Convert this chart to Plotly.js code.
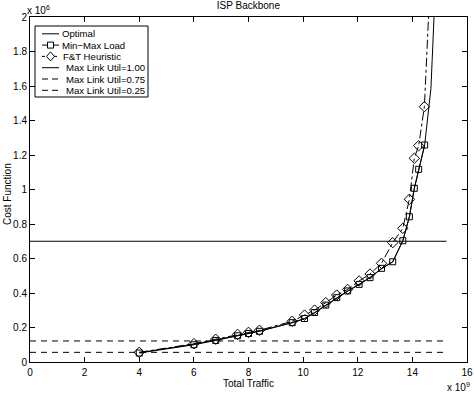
<!DOCTYPE html>
<html>
<head>
<meta charset="utf-8">
<script src="https://cdn.plot.ly/plotly-3.0.1.min.js"></script>
<style>html,body{margin:0;padding:0;background:#fff;}#chart{width:474px;height:393px;}</style>
</head>
<body>
<div id="chart"></div>
<script>
// Total traffic in units of 1e9, cost in units of 1e6
var optimalX = [4, 6, 6.8, 7.6, 8, 8.4, 9.6, 10.05, 10.42, 10.83, 11.23, 11.63, 12.05, 12.45, 12.87, 13.28, 13.65, 13.89, 14.07, 14.23, 14.45, 14.68, 14.82];
var optimalY = [0.054, 0.103, 0.128, 0.155, 0.168, 0.18, 0.228, 0.25, 0.285, 0.328, 0.37, 0.41, 0.45, 0.49, 0.54, 0.58, 0.703, 0.84, 1.005, 1.117, 1.258, 1.587, 2.1];

var minMaxX = [4, 6, 6.8, 7.6, 8, 8.4, 9.6, 10.05, 10.42, 10.83, 11.23, 11.63, 12.05, 12.45, 12.87, 13.28, 13.65, 13.89, 14.07, 14.23, 14.45];
var minMaxY = [0.052, 0.1, 0.125, 0.152, 0.165, 0.178, 0.228, 0.252, 0.287, 0.33, 0.373, 0.412, 0.45, 0.489, 0.543, 0.581, 0.703, 0.842, 1.007, 1.117, 1.258];

var ftX = [4, 6, 6.8, 7.6, 8, 8.4, 9.6, 10.05, 10.42, 10.83, 11.23, 11.63, 12.05, 12.45, 12.87, 13.28, 13.65, 13.89, 14.07, 14.23, 14.44, 14.62];
var ftY = [0.056, 0.106, 0.132, 0.16, 0.172, 0.184, 0.236, 0.272, 0.301, 0.344, 0.388, 0.421, 0.47, 0.51, 0.572, 0.692, 0.775, 0.943, 1.181, 1.254, 1.48, 2.1];

var utilX = [0, 15.25];
var util100 = 0.70;
var util075 = 0.122;
var util025 = 0.056;

var seriesNames = ['Optimal', 'Min\u2212Max Load', 'F&T Heuristic', 'Max Link Util=1.00', 'Max Link Util=0.75', 'Max Link Util=0.25'];

var FONT = '"Liberation Sans", Arial, Helvetica, sans-serif';
var FS = 10, LFS = 9.6;
var W = 474, H = 393, ML = 30, MR = 7, MT = 17, MB = 31;
var PW = W - ML - MR, PH = H - MT - MB;
function px(x) { return (x - ML) / PW; }
function py(y) { return (H - MB - y) / PH; }

var traces = [
  {x: optimalX, y: optimalY, mode: 'lines', name: seriesNames[0], line: {color: '#000', width: 1}},
  {x: minMaxX, y: minMaxY, mode: 'lines+markers', name: seriesNames[1], line: {color: '#000', width: 1},
   marker: {symbol: 'square-open', size: 6, color: '#000', line: {width: 1}}},
  {x: ftX, y: ftY, mode: 'lines+markers', name: seriesNames[2], line: {color: '#000', width: 1, dash: 'dashdot'},
   marker: {symbol: 'diamond-open', size: 8, color: '#000', line: {width: 1}}},
  {x: utilX, y: utilX.map(function(){return util100;}), mode: 'lines', name: seriesNames[3], line: {color: '#000', width: 1}},
  {x: utilX, y: utilX.map(function(){return util075;}), mode: 'lines', name: seriesNames[4], line: {color: '#000', width: 1, dash: '6px,5px'}},
  {x: utilX, y: utilX.map(function(){return util025;}), mode: 'lines', name: seriesNames[5], line: {color: '#000', width: 1, dash: '6px,5px'}}
];

// custom legend (box, samples, labels)
var shapes = [];
var annotations = [];
var legL = 35, legR = 148, legT = 26, legB = 97;
shapes.push({type: 'rect', xref: 'paper', yref: 'paper', x0: px(legL), x1: px(legR), y0: py(legB), y1: py(legT),
  line: {color: '#000', width: 1}, fillcolor: '#fff', layer: 'above'});
var rowY0 = 33.8, rowDY = 11.3;
var dashes = ['solid', 'solid', 'dot', 'solid', '6px,4px', '6px,4px'];
var textX = [61.5, 61.5, 63, 66, 66, 66];
for (var i = 0; i < seriesNames.length; i++) {
  var yy = rowY0 + i * rowDY;
  shapes.push({type: 'line', xref: 'paper', yref: 'paper', x0: px(42), x1: px(59), y0: py(yy), y1: py(yy),
    line: {color: '#000', width: 1, dash: dashes[i]}, layer: 'above'});
  annotations.push({xref: 'paper', yref: 'paper', x: px(textX[i]), y: py(yy), xanchor: 'left', yanchor: 'middle',
    text: seriesNames[i], showarrow: false, borderpad: 0, borderwidth: 0, font: {family: FONT, size: LFS, color: '#000'}});
}
// legend marker symbols
var mY = rowY0 + rowDY, mX = 50.5;
shapes.push({type: 'rect', xref: 'paper', yref: 'paper', x0: px(mX - 3), x1: px(mX + 3), y0: py(mY + 3), y1: py(mY - 3),
  line: {color: '#000', width: 1}, fillcolor: '#fff', layer: 'above'});
var dY = rowY0 + 2 * rowDY, dX = 50.5;
shapes.push({type: 'path', xref: 'paper', yref: 'paper',
  path: 'M ' + px(dX) + ' ' + py(dY - 4.5) + ' L ' + px(dX + 4) + ' ' + py(dY) + ' L ' + px(dX) + ' ' + py(dY + 4.5) + ' L ' + px(dX - 4) + ' ' + py(dY) + ' Z',
  line: {color: '#000', width: 1}, fillcolor: '#fff', layer: 'above'});

annotations.push({xref: 'paper', yref: 'paper', x: px(27), y: py(10), xanchor: 'left', yanchor: 'middle',
  text: 'x 10<sup>6</sup>', showarrow: false, borderpad: 0, borderwidth: 0, font: {family: FONT, size: FS, color: '#000'}});
annotations.push({xref: 'paper', yref: 'paper', x: px(447), y: py(387), xanchor: 'left', yanchor: 'middle',
  text: 'x 10<sup>9</sup>', showarrow: false, borderpad: 0, borderwidth: 0, font: {family: FONT, size: FS, color: '#000'}});
// axis titles
annotations.push({xref: 'paper', yref: 'paper', x: px(248.5), y: py(383.5), xanchor: 'center', yanchor: 'middle',
  text: 'Total Traffic', showarrow: false, borderpad: 0, borderwidth: 0, font: {family: FONT, size: FS, color: '#000'}});
annotations.push({xref: 'paper', yref: 'paper', x: px(8), y: py(194), xanchor: 'center', yanchor: 'middle', textangle: -90,
  text: 'Cost Function', showarrow: false, borderpad: 0, borderwidth: 0, font: {family: FONT, size: FS, color: '#000'}});

var axisCommon = {
  showgrid: false, zeroline: false, showline: true, linecolor: '#000', linewidth: 1, mirror: 'ticks',
  ticks: 'inside', ticklen: 5, tickcolor: '#000', tickwidth: 1,
  tickfont: {family: FONT, size: FS, color: '#000'}
};

var layout = {
  width: W, height: H,
  margin: {l: ML, r: MR, t: MT, b: MB, pad: 0},
  paper_bgcolor: '#fff', plot_bgcolor: '#fff',
  showlegend: false,
  title: {text: 'ISP Backbone', font: {family: FONT, size: FS, color: '#000'}, x: 0.524, xanchor: 'center', y: 0.985, yanchor: 'middle'},
  xaxis: Object.assign({}, axisCommon, {range: [0, 16], tick0: 0, dtick: 2, ticklabelstandoff: 1}),
  yaxis: Object.assign({}, axisCommon, {range: [0, 2], tick0: 0, dtick: 0.2}),
  shapes: shapes,
  annotations: annotations
};

Plotly.newPlot('chart', traces, layout, {displayModeBar: false, staticPlot: true});
</script>
</body>
</html>
